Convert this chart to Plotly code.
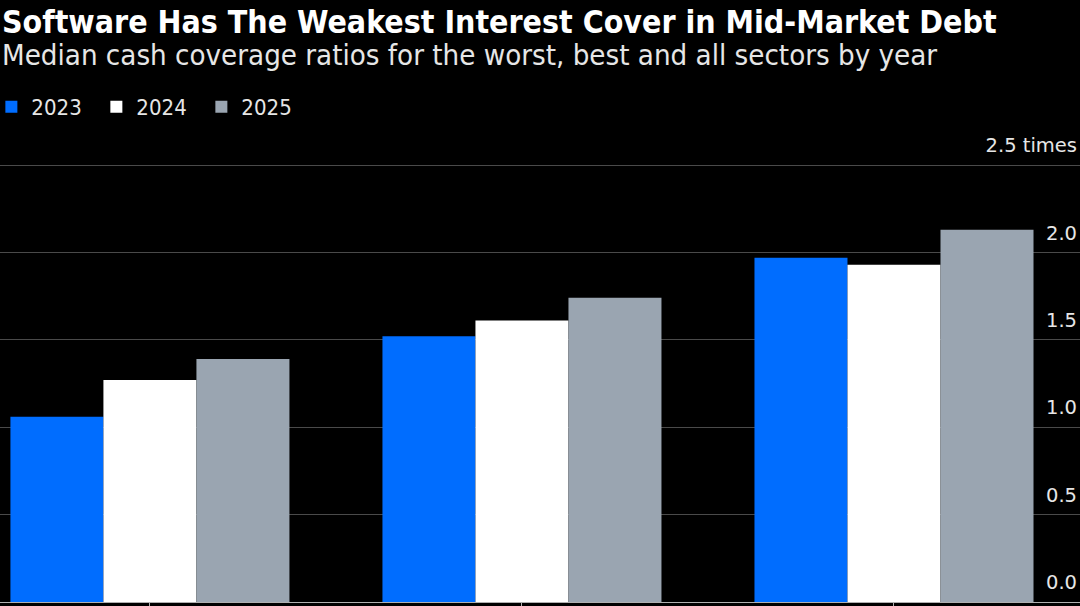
import plotly.graph_objects as go

# Groups: worst sector, all sectors, best sector (category labels are cut off in the source)
categories = ["Software", "All sectors", "Best sector"]
years = ["2023", "2024", "2025"]
values_2023 = [1.06, 1.52, 1.97]
values_2024 = [1.27, 1.61, 1.93]
values_2025 = [1.39, 1.74, 2.13]
tick_vals = [0, 0.5, 1.0, 1.5, 2.0, 2.5]
tick_text = ["0.0", "0.5", "1.0", "1.5", "2.0", "2.5 times"]

BLUE = "#006DFF"
WHITE = "#FFFFFF"
GREY = "#9AA5B1"
FONT = "DejaVu Sans"
NARROW = "DejaVu Sans Condensed, DejaVu Sans"

fig = go.Figure()
for year, vals, color in zip(years, [values_2023, values_2024, values_2025], [BLUE, WHITE, GREY]):
    fig.add_trace(go.Bar(
        x=categories, y=vals, name=year,
        marker=dict(color=color, line=dict(width=0)),
    ))

# plot area: 163px top margin, 439px tall, so 2.5 sits ~2px below the top edge
fig.update_layout(
    width=1080, height=606,
    paper_bgcolor="black", plot_bgcolor="black",
    barmode="group", bargap=0.25, bargroupgap=0,
    margin=dict(l=0, r=0, t=163, b=4, autoexpand=False),
    font=dict(family=FONT, color="#e6e6e6", size=19),
    legend=dict(
        orientation="h", x=-0.008, y=(602 - 107) / 439, xanchor="left", yanchor="middle",
        font=dict(family=NARROW, size=22, color="#e6e6e6"), itemwidth=30,
        entrywidth=60, entrywidthmode="pixels", traceorder="normal",
    ),
    xaxis=dict(
        range=[-0.403, 2.5], showgrid=False, showticklabels=False,
        showline=True, linecolor="#b0b0b0", linewidth=1,
        ticks="outside", ticklen=6, tickcolor="#b0b0b0", automargin=False,
    ),
    yaxis=dict(
        range=[0, 2.5 * 439 / 437], side="right", tickvals=tick_vals, ticktext=tick_text,
        ticklabelposition="inside top", ticklabelshift=-6, ticklabeloverflow="allow",
        gridcolor="#4a4a4a", gridwidth=1,
        zeroline=False, showline=False, ticks="", automargin=False,
        tickfont=dict(size=19.5, color="#e6e6e6"),
    ),
    annotations=[
        dict(text="<b>Software Has The Weakest Interest Cover in Mid-Market Debt</b>",
             xref="paper", yref="paper", x=0, y=(602 - 21) / 439,
             xanchor="left", yanchor="middle", showarrow=False,
             font=dict(family=NARROW, size=31.8, color="white")),
        dict(text="Median cash coverage ratios for the worst, best and all sectors by year",
             xref="paper", yref="paper", x=0, y=(602 - 55) / 439,
             xanchor="left", yanchor="middle", showarrow=False,
             font=dict(family=NARROW, size=29.2, color="#e6e6e6")),
    ],
    showlegend=True,
)

fig.write_html(
    "out.html",
    config={"displayModeBar": False},
    post_script="document.body.style.margin='0';document.body.style.overflow='hidden';",
)
